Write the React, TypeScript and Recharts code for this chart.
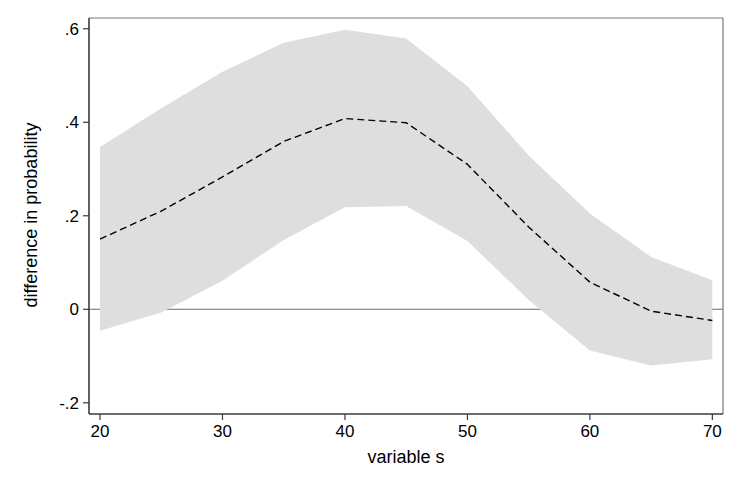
import React from 'react';
import { ComposedChart, Area, Line, XAxis, YAxis, ReferenceLine, CartesianGrid } from 'recharts';

// values of variable s
const sValues = [20, 25, 30, 35, 40, 45, 50, 55, 60, 65, 70];
// point estimate of the difference in probability
const estimate = [0.15, 0.21, 0.283, 0.359, 0.408, 0.399, 0.31, 0.176, 0.058, -0.004, -0.024];
// confidence interval bounds
const lower = [-0.046, -0.007, 0.061, 0.148, 0.218, 0.221, 0.146, 0.02, -0.088, -0.12, -0.107];
const upper = [0.347, 0.43, 0.508, 0.57, 0.598, 0.579, 0.477, 0.329, 0.205, 0.112, 0.062];

const xTicks = [20, 30, 40, 50, 60, 70];
const yTicks = [-0.2, 0, 0.2, 0.4, 0.6];
const yDomain = [-0.224, 0.623];

const data = sValues.map((s, i) => ({
  s,
  est: estimate[i],
  ci: [lower[i], upper[i]],
}));

const font = '"Liberation Sans", Arial, Helvetica, sans-serif';
const axisColor = '#3a3a3a';
const frameColor = '#7a7a7a';

const fmtY = (v: number) => {
  if (v === 0) return '0';
  return v.toFixed(1).replace('0.', '.');
};

const YTitle = ({ viewBox }: any) => {
  const cx = 37;
  const cy = viewBox.y + viewBox.height / 2 - 1;
  return (
    <text x={cx} y={cy} transform={`rotate(-90, ${cx}, ${cy})`} textAnchor="middle"
      fontSize={18} fill="#000" fontFamily={font}>
      difference in probability
    </text>
  );
};

const XTitle = ({ viewBox }: any) => (
  <text x={viewBox.x + viewBox.width / 2} y={463} textAnchor="middle" fontSize={18} fill="#000" fontFamily={font}>
    variable s
  </text>
);

// zero line sits under the band, as in the original
const zeroLine = ({ yAxis, offset }: any) => {
  const sc = yAxis && yAxis.scale;
  if (typeof sc === 'function') return [sc(0)];
  if (sc && typeof sc.map === 'function') return [sc.map(0)];
  const [lo, hi] = yDomain;
  return [offset.top + (offset.height * (hi - 0)) / (hi - lo)];
};

const App = () => {
  return (
    <div style={{ position: 'absolute', left: 0, top: 0, width: 741, height: 494, background: '#fff' }}>
      <ComposedChart width={741} height={494} data={data} margin={{ top: 18, right: 18, bottom: 30, left: 29 }}>
        <CartesianGrid vertical={false} horizontalCoordinatesGenerator={zeroLine} stroke="#6a6a6a" strokeWidth={1.2} />
        <Area type="linear" dataKey="ci" stroke="none" fill="#dedede" fillOpacity={1} isAnimationActive={false} />
        <ReferenceLine y={0.623} stroke={frameColor} strokeWidth={1.2} />
        <ReferenceLine x={70.87} stroke={frameColor} strokeWidth={1.2} />
        <Line type="linear" dataKey="est" stroke="#000" strokeWidth={1.4} strokeDasharray="7 4" dot={false}
          isAnimationActive={false} />
        <XAxis dataKey="s" type="number" domain={[19.1, 70.87]} ticks={xTicks} height={50}
          axisLine={{ stroke: axisColor, strokeWidth: 1.6 }} tickLine={{ stroke: axisColor, strokeWidth: 1.2 }}
          tickSize={6} tickMargin={5} tick={{ fill: '#000', fontSize: 17, fontFamily: font }}
          label={<XTitle />} />
        <YAxis type="number" domain={yDomain} ticks={yTicks} width={60} tickFormatter={fmtY}
          axisLine={{ stroke: axisColor, strokeWidth: 1.6 }} tickLine={{ stroke: axisColor, strokeWidth: 1.2 }}
          tickSize={6} tickMargin={4} tick={{ fill: '#000', fontSize: 17, fontFamily: font }}
          label={<YTitle />} />
      </ComposedChart>
    </div>
  );
};

export default App;
